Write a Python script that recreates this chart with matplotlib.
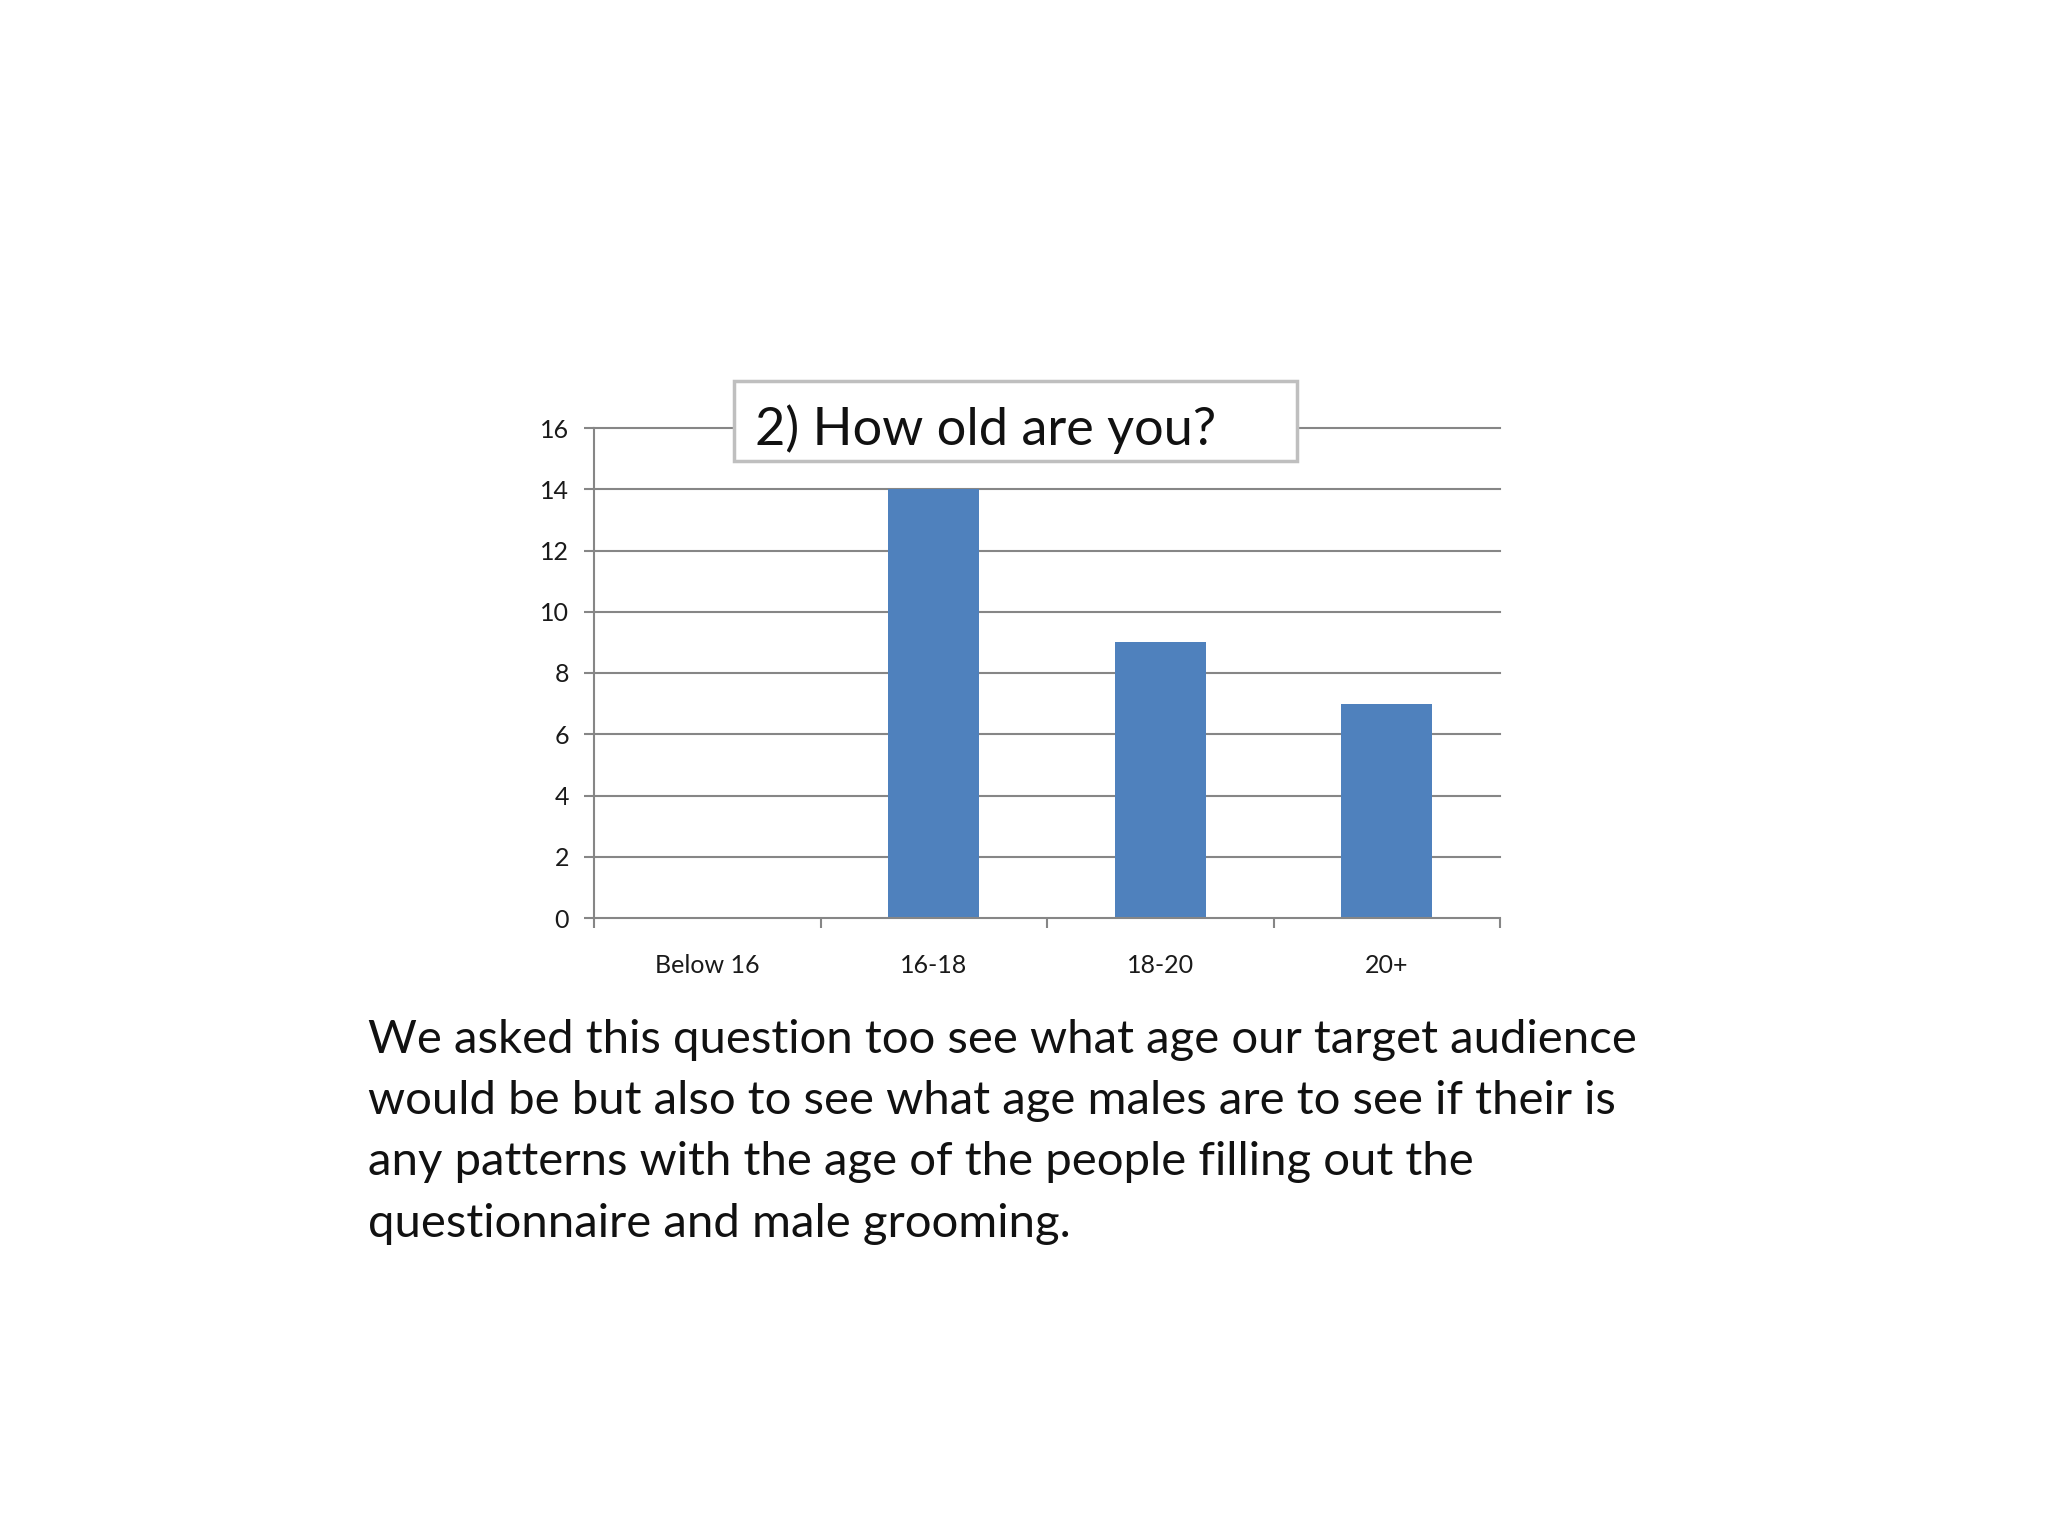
import matplotlib
matplotlib.use("Agg")
import matplotlib.pyplot as plt
from matplotlib.patches import Rectangle
import numpy as np

categories = ["Below 16", "16-18", "18-20", "20+"]
counts = [0, 14, 9, 7]
yticks = [0, 2, 4, 6, 8, 10, 12, 14, 16]
title = "2) How old are you?"
paragraph = [
    "We asked this question too see what age our target audience",
    "would be but also to see what age males are to see if their is",
    "any patterns with the age of the people filling out the",
    "questionnaire and male grooming.",
]

FONT = "Lato"
plt.rcParams["font.family"] = [FONT, "DejaVu Sans"]

W, H = 2048, 1536
fig = plt.figure(figsize=(W / 100, H / 100), dpi=100)
fig.patch.set_facecolor("white")

left, right, top, bottom = 594, 1500, 428, 918
ax = fig.add_axes([left / W, 1 - bottom / H, (right - left) / W, (bottom - top) / H])

x = np.arange(len(categories))
ax.bar(x, counts, width=0.4, color="#4F81BD", zorder=3)
ax.set_xlim(-0.5, len(categories) - 0.5)
ax.set_ylim(0, 16)
ax.set_yticks(yticks)
ax.set_yticklabels([str(v) for v in yticks], fontsize=18, color="#1a1a1a")
for y in yticks[1:]:
    ax.axhline(y, color="#868686", lw=1.5, zorder=1, clip_on=False)

ax.set_xticks(np.arange(-0.5, len(categories), 1.0))
ax.set_xticklabels([])
ax.set_xticks(x, minor=True)
ax.set_xticklabels(categories, minor=True, fontsize=18, color="#1a1a1a")
ax.tick_params(axis="x", which="major", length=7, width=1.5, color="#868686", direction="out")
ax.tick_params(axis="x", which="minor", length=0, pad=26)
ax.tick_params(axis="y", length=7, width=1.5, color="#868686", pad=11)

for s in ["top", "right"]:
    ax.spines[s].set_visible(False)
for s in ["left", "bottom"]:
    ax.spines[s].set_color("#868686")
    ax.spines[s].set_linewidth(1.5)
ax.spines["bottom"].set_zorder(4)

# title box
bx0, by0, bx1, by1 = 734, 381, 1297, 461
rect = Rectangle((bx0 / W, 1 - by1 / H), (bx1 - bx0) / W, (by1 - by0) / H,
                 transform=fig.transFigure, facecolor="white", edgecolor="#BFBFBF",
                 lw=2.5, zorder=10)
fig.patches.append(rect)
fig.text(755 / W, 1 - 445 / H, title, fontsize=37.6, va="baseline", ha="left",
         color="#111111", zorder=11)

baselines = [1053, 1114, 1175, 1237]
for line, b in zip(paragraph, baselines):
    fig.text(368 / W, 1 - b / H, line, fontsize=34, va="baseline", ha="left", color="#111111")

fig.savefig("out.png", dpi=100)
